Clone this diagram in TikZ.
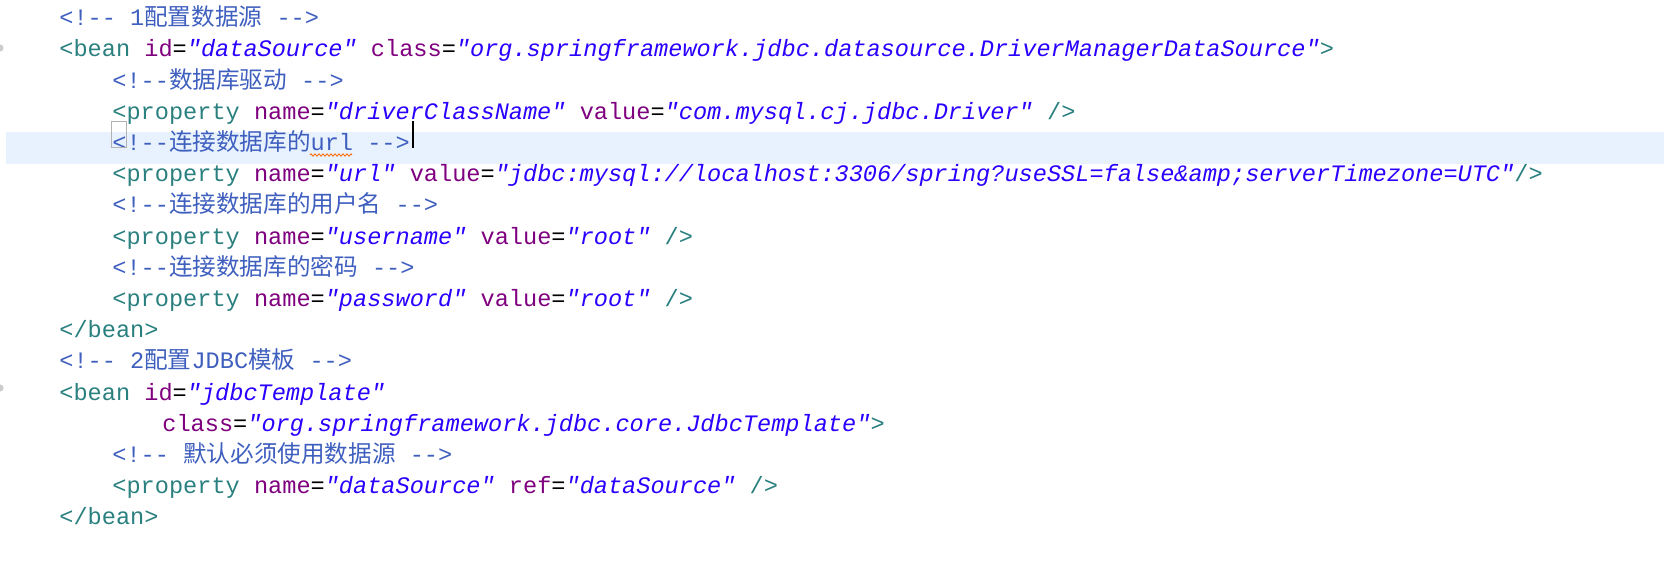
\documentclass[tikz,border=0pt]{standalone}
\usepackage{fontspec}
\setmonofont{Liberation Mono}
\newfontfamily\cjk{Noto Sans CJK SC}
\usetikzlibrary{decorations.pathmorphing}
\definecolor{tagc}{HTML}{2A7F7F}
\definecolor{attc}{HTML}{7F007F}
\definecolor{valc}{HTML}{2A00FF}
\definecolor{comc}{HTML}{3F5FBF}
\definecolor{hlc}{HTML}{E8F2FE}
\newcommand\xt[1]{\textcolor{tagc}{#1}}
\newcommand\xa[1]{\textcolor{attc}{#1}}
\newcommand\xv[1]{\textcolor{valc}{\itshape #1}}
\newcommand\xc[1]{\textcolor{comc}{#1}}
\newcommand\zh[1]{{\cjk #1}}
\tikzset{code/.style={anchor=base west,inner sep=0pt,font=\ttfamily\fontsize{11.8}{13}\selectfont,text=black}}
\begin{document}
\begin{tikzpicture}[x=1pt,y=-1pt]
\useasboundingbox (0,0) rectangle (832,289);
\fill[hlc] (3,66) rectangle (832,82);
\def\ba{12.8}\def\ls{15.6}
\node[code] (l1) at (29.5,\ba) {\xc{<!-- 1\zh{配置数据源} -->}};
\node[code] (l2) at (29.5,\ba+\ls) {\xt{<bean} \xa{id}=\xv{"dataSource"} \xa{class}=\xv{"org.springframework.jdbc.datasource.DriverManagerDataSource"}\xt{>}};
\node[code] (l3) at (56,\ba+2*\ls) {\xc{<!--\zh{数据库驱动} -->}};
\node[code] (l4) at (56,\ba+3*\ls) {\xt{<property} \xa{name}=\xv{"driverClassName"} \xa{value}=\xv{"com.mysql.cj.jdbc.Driver"} \xt{/>}};
\node[code] (l5) at (56,\ba+4*\ls) {\xc{<!--\zh{连接数据库的}url -->}};
\node[code] (l6) at (56,\ba+5*\ls) {\xt{<property} \xa{name}=\xv{"url"} \xa{value}=\xv{"jdbc:mysql://localhost:3306/spring?useSSL=false\&amp;serverTimezone=UTC"}\xt{/>}};
\node[code] (l7) at (56,\ba+6*\ls) {\xc{<!--\zh{连接数据库的用户名} -->}};
\node[code] (l8) at (56,\ba+7*\ls) {\xt{<property} \xa{name}=\xv{"username"} \xa{value}=\xv{"root"} \xt{/>}};
\node[code] (l9) at (56,\ba+8*\ls) {\xc{<!--\zh{连接数据库的密码} -->}};
\node[code] (l10) at (56,\ba+9*\ls) {\xt{<property} \xa{name}=\xv{"password"} \xa{value}=\xv{"root"} \xt{/>}};
\node[code] (l11) at (29.5,\ba+10*\ls) {\xt{</bean>}};
\node[code] (l12) at (29.5,\ba+11*\ls) {\xc{<!-- 2\zh{配置}JDBC\zh{模板} -->}};
\node[code] (l13) at (29.5,\ba+12*\ls) {\xt{<bean} \xa{id}=\xv{"jdbcTemplate"}};
\node[code] (l14) at (81,\ba+13*\ls) {\xa{class}=\xv{"org.springframework.jdbc.core.JdbcTemplate"}\xt{>}};
\node[code] (l15) at (56,\ba+14*\ls) {\xc{<!-- \zh{默认必须使用数据源} -->}};
\node[code] (l16) at (56,\ba+15*\ls) {\xt{<property} \xa{name}=\xv{"dataSource"} \xa{ref}=\xv{"dataSource"} \xt{/>}};
\node[code] (l17) at (29.5,\ba+16*\ls) {\xt{</bean>}};
\draw[black,line width=1pt] ([xshift=1.5pt]l5.east) ++(0,-10) -- ++(0,13.5);
\draw[gray!60,line width=0.5pt] (l5.west) ++(-0.3,-10) rectangle ++(7.3,13);
\coordinate (sq) at ([xshift=99pt,yshift=-2.3pt]l5.base west);
\draw[orange!80!red,line width=0.4pt,decorate,decoration={zigzag,segment length=2pt,amplitude=0.6pt}] (sq) -- ++(21,0);
\fill[gray!40] (0,24) circle (1.8pt);
\fill[gray!40] (0,194) circle (1.8pt);
\end{tikzpicture}
\end{document}
